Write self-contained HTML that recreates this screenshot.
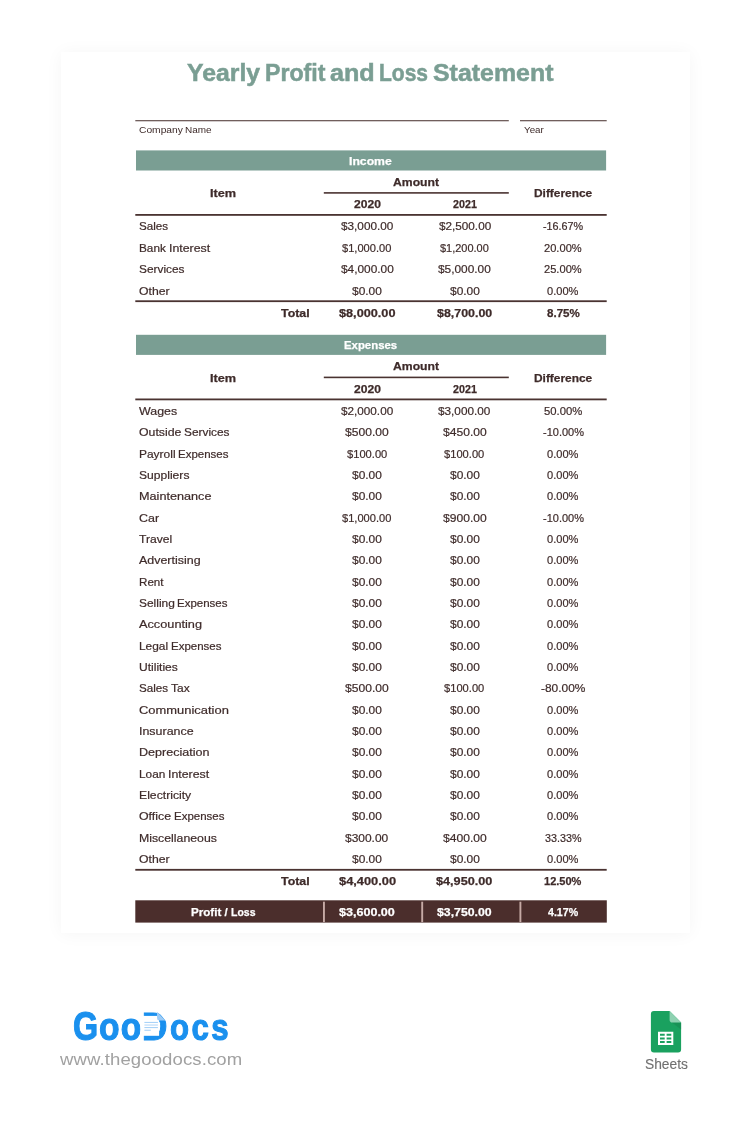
<!DOCTYPE html>
<html lang="en">
<head>
<meta charset="utf-8">
<title>Yearly Profit and Loss Statement</title>
<style>
html,body{margin:0;padding:0;background:#ffffff;}
body{width:750px;height:1144px;position:relative;overflow:hidden;font-family:"Liberation Sans",sans-serif;color:#3e2b2a;}
.t{position:absolute;white-space:nowrap;margin:0;padding:0;transform-origin:0 50%;}
.w{display:inline-block;transform-origin:0 50%;word-spacing:0;}
.r{position:absolute;}
.card{position:absolute;left:60.5px;top:52px;width:629px;height:881px;background:#fff;box-shadow:0 1px 17px rgba(0,0,0,0.045);}
</style>
</head>
<body>
<div class="card"></div>
<svg class="r" style="left:0;top:0" width="750" height="1144" viewBox="0 0 750 1144">
<rect x="135.30" y="120.05" width="373.50" height="1.25" fill="#6a5856"/>
<rect x="520.00" y="120.05" width="86.70" height="1.25" fill="#6a5856"/>
<rect x="136.00" y="150.40" width="470.10" height="20.10" fill="#7a9e93"/>
<rect x="323.80" y="192.10" width="185.00" height="1.60" fill="#4a3331"/>
<rect x="135.30" y="214.00" width="471.40" height="1.80" fill="#4a3331"/>
<rect x="135.30" y="300.30" width="471.40" height="1.80" fill="#4a3331"/>
<rect x="136.00" y="334.80" width="470.10" height="20.10" fill="#7a9e93"/>
<rect x="323.80" y="376.60" width="185.00" height="1.60" fill="#4a3331"/>
<rect x="135.30" y="398.50" width="471.40" height="1.80" fill="#4a3331"/>
<rect x="135.30" y="868.90" width="471.40" height="1.80" fill="#4a3331"/>
<rect x="135.30" y="900.30" width="471.50" height="22.30" fill="#4b2e2c"/>
<rect x="323.00" y="901.70" width="1.90" height="20.40" fill="#c6aaa5"/>
<rect x="421.25" y="901.70" width="1.90" height="20.40" fill="#c6aaa5"/>
<rect x="519.45" y="901.70" width="1.90" height="20.40" fill="#c6aaa5"/>
</svg>
<div class="t" style="left:187.06px;top:55px;font-size:22.99px;line-height:37px;word-spacing:-1.727px;font-weight:700;color:#7a9e93;-webkit-text-stroke:0.5px #7a9e93"><span class="w" style="width:73.06px;transform:scaleX(1.0783)">Yearly</span> <span class="w" style="width:60.50px;transform:scaleX(1.0079)">Profit</span> <span class="w" style="width:44.70px;transform:scaleX(1.0937)">and</span> <span class="w" style="width:49.06px;transform:scaleX(0.9143)">Loss</span> <span class="w" style="width:120.49px;transform:scaleX(1.0841)">Statement</span></div>
<div class="t" style="left:138.70px;top:123px;font-size:9.11px;line-height:15px;word-spacing:-0.182px"><span class="w" style="width:43.97px;transform:scaleX(1.1278)">Company</span> <span class="w" style="width:26.66px;transform:scaleX(1.0969)">Name</span></div>
<div class="t" style="left:523.50px;top:123px;font-size:9.11px;line-height:15px;transform:scaleX(1.0771)">Year</div>
<div class="t" style="left:349.43px;top:152px;font-size:11.38px;line-height:18px;transform:scaleX(1.0729);font-weight:700;color:#ffffff;-webkit-text-stroke:0.25px #ffffff">Income</div>
<div class="t" style="left:393.27px;top:173px;font-size:11.38px;line-height:18px;transform:scaleX(1.0716);font-weight:700;-webkit-text-stroke:0.25px #3e2b2a">Amount</div>
<div class="t" style="left:353.65px;top:195px;font-size:11.38px;line-height:18px;transform:scaleX(1.0628);font-weight:700;-webkit-text-stroke:0.25px #3e2b2a">2020</div>
<div class="t" style="left:452.67px;top:195px;font-size:11.38px;line-height:18px;transform:scaleX(0.9428);font-weight:700;-webkit-text-stroke:0.25px #3e2b2a">2021</div>
<div class="t" style="left:210.13px;top:184px;font-size:11.38px;line-height:18px;transform:scaleX(1.1170);font-weight:700;-webkit-text-stroke:0.25px #3e2b2a">Item</div>
<div class="t" style="left:533.87px;top:184px;font-size:11.38px;line-height:18px;transform:scaleX(1.0469);font-weight:700;-webkit-text-stroke:0.25px #3e2b2a">Difference</div>
<div class="t" style="left:138.70px;top:217px;font-size:11.38px;line-height:18px;transform:scaleX(1.0244);-webkit-text-stroke:0.2px #3e2b2a">Sales</div>
<div class="t" style="left:340.93px;top:217px;font-size:11.38px;line-height:18px;transform:scaleX(1.0340);-webkit-text-stroke:0.2px #3e2b2a">$3,000.00</div>
<div class="t" style="left:438.50px;top:217px;font-size:11.38px;line-height:18px;transform:scaleX(1.0310);-webkit-text-stroke:0.2px #3e2b2a">$2,500.00</div>
<div class="t" style="left:542.89px;top:217px;font-size:11.38px;line-height:18px;transform:scaleX(0.9488);-webkit-text-stroke:0.2px #3e2b2a">-16.67%</div>
<div class="t" style="left:138.70px;top:239px;font-size:11.38px;line-height:18px;word-spacing:-0.228px;-webkit-text-stroke:0.2px #3e2b2a"><span class="w" style="width:26.88px;transform:scaleX(1.0364)">Bank</span> <span class="w" style="width:41.24px;transform:scaleX(1.0866)">Interest</span></div>
<div class="t" style="left:342.41px;top:239px;font-size:11.38px;line-height:18px;transform:scaleX(0.9756);-webkit-text-stroke:0.2px #3e2b2a">$1,000.00</div>
<div class="t" style="left:440.20px;top:239px;font-size:11.38px;line-height:18px;transform:scaleX(0.9641);-webkit-text-stroke:0.2px #3e2b2a">$1,200.00</div>
<div class="t" style="left:544.15px;top:239px;font-size:11.38px;line-height:18px;transform:scaleX(0.9770);-webkit-text-stroke:0.2px #3e2b2a">20.00%</div>
<div class="t" style="left:138.70px;top:260px;font-size:11.38px;line-height:18px;transform:scaleX(1.0426);-webkit-text-stroke:0.2px #3e2b2a">Services</div>
<div class="t" style="left:340.71px;top:260px;font-size:11.38px;line-height:18px;transform:scaleX(1.0427);-webkit-text-stroke:0.2px #3e2b2a">$4,000.00</div>
<div class="t" style="left:438.21px;top:260px;font-size:11.38px;line-height:18px;transform:scaleX(1.0425);-webkit-text-stroke:0.2px #3e2b2a">$5,000.00</div>
<div class="t" style="left:544.15px;top:260px;font-size:11.38px;line-height:18px;transform:scaleX(0.9770);-webkit-text-stroke:0.2px #3e2b2a">25.00%</div>
<div class="t" style="left:138.70px;top:282px;font-size:11.38px;line-height:18px;transform:scaleX(1.0756);-webkit-text-stroke:0.2px #3e2b2a">Other</div>
<div class="t" style="left:352.16px;top:282px;font-size:11.38px;line-height:18px;transform:scaleX(1.0491);-webkit-text-stroke:0.2px #3e2b2a">$0.00</div>
<div class="t" style="left:449.66px;top:282px;font-size:11.38px;line-height:18px;transform:scaleX(1.0491);-webkit-text-stroke:0.2px #3e2b2a">$0.00</div>
<div class="t" style="left:547.31px;top:282px;font-size:11.38px;line-height:18px;transform:scaleX(0.9726);-webkit-text-stroke:0.2px #3e2b2a">0.00%</div>
<div class="t" style="left:280.61px;top:304px;font-size:11.38px;line-height:18px;transform:scaleX(1.0892);font-weight:700;-webkit-text-stroke:0.25px #3e2b2a">Total</div>
<div class="t" style="left:338.86px;top:304px;font-size:11.38px;line-height:18px;transform:scaleX(1.1157);font-weight:700;-webkit-text-stroke:0.25px #3e2b2a">$8,000.00</div>
<div class="t" style="left:437.00px;top:304px;font-size:11.38px;line-height:18px;transform:scaleX(1.0903);font-weight:700;-webkit-text-stroke:0.25px #3e2b2a">$8,700.00</div>
<div class="t" style="left:546.58px;top:304px;font-size:11.38px;line-height:18px;transform:scaleX(1.0176);font-weight:700;-webkit-text-stroke:0.25px #3e2b2a">8.75%</div>
<div class="t" style="left:344.24px;top:336px;font-size:11.38px;line-height:18px;transform:scaleX(0.9998);font-weight:700;color:#ffffff;-webkit-text-stroke:0.25px #ffffff">Expenses</div>
<div class="t" style="left:393.27px;top:357px;font-size:11.38px;line-height:18px;transform:scaleX(1.0716);font-weight:700;-webkit-text-stroke:0.25px #3e2b2a">Amount</div>
<div class="t" style="left:353.65px;top:380px;font-size:11.38px;line-height:18px;transform:scaleX(1.0628);font-weight:700;-webkit-text-stroke:0.25px #3e2b2a">2020</div>
<div class="t" style="left:452.67px;top:380px;font-size:11.38px;line-height:18px;transform:scaleX(0.9428);font-weight:700;-webkit-text-stroke:0.25px #3e2b2a">2021</div>
<div class="t" style="left:210.13px;top:369px;font-size:11.38px;line-height:18px;transform:scaleX(1.1170);font-weight:700;-webkit-text-stroke:0.25px #3e2b2a">Item</div>
<div class="t" style="left:533.87px;top:369px;font-size:11.38px;line-height:18px;transform:scaleX(1.0469);font-weight:700;-webkit-text-stroke:0.25px #3e2b2a">Difference</div>
<div class="t" style="left:138.70px;top:402px;font-size:11.38px;line-height:18px;transform:scaleX(1.0907);-webkit-text-stroke:0.2px #3e2b2a">Wages</div>
<div class="t" style="left:341.00px;top:402px;font-size:11.38px;line-height:18px;transform:scaleX(1.0310);-webkit-text-stroke:0.2px #3e2b2a">$2,000.00</div>
<div class="t" style="left:438.43px;top:402px;font-size:11.38px;line-height:18px;transform:scaleX(1.0340);-webkit-text-stroke:0.2px #3e2b2a">$3,000.00</div>
<div class="t" style="left:543.85px;top:402px;font-size:11.38px;line-height:18px;transform:scaleX(0.9921);-webkit-text-stroke:0.2px #3e2b2a">50.00%</div>
<div class="t" style="left:138.70px;top:423px;font-size:11.38px;line-height:18px;word-spacing:-0.228px;-webkit-text-stroke:0.2px #3e2b2a"><span class="w" style="width:42.39px;transform:scaleX(1.0809)">Outside</span> <span class="w" style="width:45.50px;transform:scaleX(1.0426)">Services</span></div>
<div class="t" style="left:345.25px;top:423px;font-size:11.38px;line-height:18px;transform:scaleX(1.0621);-webkit-text-stroke:0.2px #3e2b2a">$500.00</div>
<div class="t" style="left:442.75px;top:423px;font-size:11.38px;line-height:18px;transform:scaleX(1.0624);-webkit-text-stroke:0.2px #3e2b2a">$450.00</div>
<div class="t" style="left:542.52px;top:423px;font-size:11.38px;line-height:18px;transform:scaleX(0.9664);-webkit-text-stroke:0.2px #3e2b2a">-10.00%</div>
<div class="t" style="left:138.70px;top:445px;font-size:11.38px;line-height:18px;word-spacing:-0.228px;-webkit-text-stroke:0.2px #3e2b2a"><span class="w" style="width:36.55px;transform:scaleX(1.0509)">Payroll</span> <span class="w" style="width:50.51px;transform:scaleX(1.0107)">Expenses</span></div>
<div class="t" style="left:346.95px;top:445px;font-size:11.38px;line-height:18px;transform:scaleX(0.9798);-webkit-text-stroke:0.2px #3e2b2a">$100.00</div>
<div class="t" style="left:444.45px;top:445px;font-size:11.38px;line-height:18px;transform:scaleX(0.9798);-webkit-text-stroke:0.2px #3e2b2a">$100.00</div>
<div class="t" style="left:547.31px;top:445px;font-size:11.38px;line-height:18px;transform:scaleX(0.9726);-webkit-text-stroke:0.2px #3e2b2a">0.00%</div>
<div class="t" style="left:138.70px;top:466px;font-size:11.38px;line-height:18px;transform:scaleX(1.0633);-webkit-text-stroke:0.2px #3e2b2a">Suppliers</div>
<div class="t" style="left:352.16px;top:466px;font-size:11.38px;line-height:18px;transform:scaleX(1.0491);-webkit-text-stroke:0.2px #3e2b2a">$0.00</div>
<div class="t" style="left:449.66px;top:466px;font-size:11.38px;line-height:18px;transform:scaleX(1.0491);-webkit-text-stroke:0.2px #3e2b2a">$0.00</div>
<div class="t" style="left:547.31px;top:466px;font-size:11.38px;line-height:18px;transform:scaleX(0.9726);-webkit-text-stroke:0.2px #3e2b2a">0.00%</div>
<div class="t" style="left:138.70px;top:487px;font-size:11.38px;line-height:18px;transform:scaleX(1.1124);-webkit-text-stroke:0.2px #3e2b2a">Maintenance</div>
<div class="t" style="left:352.16px;top:487px;font-size:11.38px;line-height:18px;transform:scaleX(1.0491);-webkit-text-stroke:0.2px #3e2b2a">$0.00</div>
<div class="t" style="left:449.66px;top:487px;font-size:11.38px;line-height:18px;transform:scaleX(1.0491);-webkit-text-stroke:0.2px #3e2b2a">$0.00</div>
<div class="t" style="left:547.31px;top:487px;font-size:11.38px;line-height:18px;transform:scaleX(0.9726);-webkit-text-stroke:0.2px #3e2b2a">0.00%</div>
<div class="t" style="left:138.70px;top:509px;font-size:11.38px;line-height:18px;transform:scaleX(1.0924);-webkit-text-stroke:0.2px #3e2b2a">Car</div>
<div class="t" style="left:342.41px;top:509px;font-size:11.38px;line-height:18px;transform:scaleX(0.9756);-webkit-text-stroke:0.2px #3e2b2a">$1,000.00</div>
<div class="t" style="left:442.74px;top:509px;font-size:11.38px;line-height:18px;transform:scaleX(1.0627);-webkit-text-stroke:0.2px #3e2b2a">$900.00</div>
<div class="t" style="left:542.52px;top:509px;font-size:11.38px;line-height:18px;transform:scaleX(0.9664);-webkit-text-stroke:0.2px #3e2b2a">-10.00%</div>
<div class="t" style="left:138.70px;top:530px;font-size:11.38px;line-height:18px;transform:scaleX(1.0639);-webkit-text-stroke:0.2px #3e2b2a">Travel</div>
<div class="t" style="left:352.16px;top:530px;font-size:11.38px;line-height:18px;transform:scaleX(1.0491);-webkit-text-stroke:0.2px #3e2b2a">$0.00</div>
<div class="t" style="left:449.66px;top:530px;font-size:11.38px;line-height:18px;transform:scaleX(1.0491);-webkit-text-stroke:0.2px #3e2b2a">$0.00</div>
<div class="t" style="left:547.31px;top:530px;font-size:11.38px;line-height:18px;transform:scaleX(0.9726);-webkit-text-stroke:0.2px #3e2b2a">0.00%</div>
<div class="t" style="left:138.70px;top:551px;font-size:11.38px;line-height:18px;transform:scaleX(1.0939);-webkit-text-stroke:0.2px #3e2b2a">Advertising</div>
<div class="t" style="left:352.16px;top:551px;font-size:11.38px;line-height:18px;transform:scaleX(1.0491);-webkit-text-stroke:0.2px #3e2b2a">$0.00</div>
<div class="t" style="left:449.66px;top:551px;font-size:11.38px;line-height:18px;transform:scaleX(1.0491);-webkit-text-stroke:0.2px #3e2b2a">$0.00</div>
<div class="t" style="left:547.31px;top:551px;font-size:11.38px;line-height:18px;transform:scaleX(0.9726);-webkit-text-stroke:0.2px #3e2b2a">0.00%</div>
<div class="t" style="left:138.70px;top:573px;font-size:11.38px;line-height:18px;transform:scaleX(1.0214);-webkit-text-stroke:0.2px #3e2b2a">Rent</div>
<div class="t" style="left:352.16px;top:573px;font-size:11.38px;line-height:18px;transform:scaleX(1.0491);-webkit-text-stroke:0.2px #3e2b2a">$0.00</div>
<div class="t" style="left:449.66px;top:573px;font-size:11.38px;line-height:18px;transform:scaleX(1.0491);-webkit-text-stroke:0.2px #3e2b2a">$0.00</div>
<div class="t" style="left:547.31px;top:573px;font-size:11.38px;line-height:18px;transform:scaleX(0.9726);-webkit-text-stroke:0.2px #3e2b2a">0.00%</div>
<div class="t" style="left:138.70px;top:594px;font-size:11.38px;line-height:18px;word-spacing:-0.228px;-webkit-text-stroke:0.2px #3e2b2a"><span class="w" style="width:35.87px;transform:scaleX(1.0500)">Selling</span> <span class="w" style="width:50.51px;transform:scaleX(1.0107)">Expenses</span></div>
<div class="t" style="left:352.16px;top:594px;font-size:11.38px;line-height:18px;transform:scaleX(1.0491);-webkit-text-stroke:0.2px #3e2b2a">$0.00</div>
<div class="t" style="left:449.66px;top:594px;font-size:11.38px;line-height:18px;transform:scaleX(1.0491);-webkit-text-stroke:0.2px #3e2b2a">$0.00</div>
<div class="t" style="left:547.31px;top:594px;font-size:11.38px;line-height:18px;transform:scaleX(0.9726);-webkit-text-stroke:0.2px #3e2b2a">0.00%</div>
<div class="t" style="left:138.70px;top:615px;font-size:11.38px;line-height:18px;transform:scaleX(1.1202);-webkit-text-stroke:0.2px #3e2b2a">Accounting</div>
<div class="t" style="left:352.16px;top:615px;font-size:11.38px;line-height:18px;transform:scaleX(1.0491);-webkit-text-stroke:0.2px #3e2b2a">$0.00</div>
<div class="t" style="left:449.66px;top:615px;font-size:11.38px;line-height:18px;transform:scaleX(1.0491);-webkit-text-stroke:0.2px #3e2b2a">$0.00</div>
<div class="t" style="left:547.31px;top:615px;font-size:11.38px;line-height:18px;transform:scaleX(0.9726);-webkit-text-stroke:0.2px #3e2b2a">0.00%</div>
<div class="t" style="left:138.70px;top:637px;font-size:11.38px;line-height:18px;word-spacing:-0.226px;-webkit-text-stroke:0.2px #3e2b2a"><span class="w" style="width:29.15px;transform:scaleX(1.0469)">Legal</span> <span class="w" style="width:50.51px;transform:scaleX(1.0107)">Expenses</span></div>
<div class="t" style="left:352.16px;top:637px;font-size:11.38px;line-height:18px;transform:scaleX(1.0491);-webkit-text-stroke:0.2px #3e2b2a">$0.00</div>
<div class="t" style="left:449.66px;top:637px;font-size:11.38px;line-height:18px;transform:scaleX(1.0491);-webkit-text-stroke:0.2px #3e2b2a">$0.00</div>
<div class="t" style="left:547.31px;top:637px;font-size:11.38px;line-height:18px;transform:scaleX(0.9726);-webkit-text-stroke:0.2px #3e2b2a">0.00%</div>
<div class="t" style="left:138.70px;top:658px;font-size:11.38px;line-height:18px;transform:scaleX(1.0585);-webkit-text-stroke:0.2px #3e2b2a">Utilities</div>
<div class="t" style="left:352.16px;top:658px;font-size:11.38px;line-height:18px;transform:scaleX(1.0491);-webkit-text-stroke:0.2px #3e2b2a">$0.00</div>
<div class="t" style="left:449.66px;top:658px;font-size:11.38px;line-height:18px;transform:scaleX(1.0491);-webkit-text-stroke:0.2px #3e2b2a">$0.00</div>
<div class="t" style="left:547.31px;top:658px;font-size:11.38px;line-height:18px;transform:scaleX(0.9726);-webkit-text-stroke:0.2px #3e2b2a">0.00%</div>
<div class="t" style="left:138.70px;top:679px;font-size:11.38px;line-height:18px;word-spacing:-0.228px;-webkit-text-stroke:0.2px #3e2b2a"><span class="w" style="width:29.16px;transform:scaleX(1.0244)">Sales</span> <span class="w" style="width:18.66px;transform:scaleX(1.0535)">Tax</span></div>
<div class="t" style="left:345.25px;top:679px;font-size:11.38px;line-height:18px;transform:scaleX(1.0621);-webkit-text-stroke:0.2px #3e2b2a">$500.00</div>
<div class="t" style="left:444.45px;top:679px;font-size:11.38px;line-height:18px;transform:scaleX(0.9798);-webkit-text-stroke:0.2px #3e2b2a">$100.00</div>
<div class="t" style="left:540.81px;top:679px;font-size:11.38px;line-height:18px;transform:scaleX(1.0471);-webkit-text-stroke:0.2px #3e2b2a">-80.00%</div>
<div class="t" style="left:138.70px;top:701px;font-size:11.38px;line-height:18px;transform:scaleX(1.1369);-webkit-text-stroke:0.2px #3e2b2a">Communication</div>
<div class="t" style="left:352.16px;top:701px;font-size:11.38px;line-height:18px;transform:scaleX(1.0491);-webkit-text-stroke:0.2px #3e2b2a">$0.00</div>
<div class="t" style="left:449.66px;top:701px;font-size:11.38px;line-height:18px;transform:scaleX(1.0491);-webkit-text-stroke:0.2px #3e2b2a">$0.00</div>
<div class="t" style="left:547.31px;top:701px;font-size:11.38px;line-height:18px;transform:scaleX(0.9726);-webkit-text-stroke:0.2px #3e2b2a">0.00%</div>
<div class="t" style="left:138.70px;top:722px;font-size:11.38px;line-height:18px;transform:scaleX(1.0926);-webkit-text-stroke:0.2px #3e2b2a">Insurance</div>
<div class="t" style="left:352.16px;top:722px;font-size:11.38px;line-height:18px;transform:scaleX(1.0491);-webkit-text-stroke:0.2px #3e2b2a">$0.00</div>
<div class="t" style="left:449.66px;top:722px;font-size:11.38px;line-height:18px;transform:scaleX(1.0491);-webkit-text-stroke:0.2px #3e2b2a">$0.00</div>
<div class="t" style="left:547.31px;top:722px;font-size:11.38px;line-height:18px;transform:scaleX(0.9726);-webkit-text-stroke:0.2px #3e2b2a">0.00%</div>
<div class="t" style="left:138.70px;top:743px;font-size:11.38px;line-height:18px;transform:scaleX(1.1044);-webkit-text-stroke:0.2px #3e2b2a">Depreciation</div>
<div class="t" style="left:352.16px;top:743px;font-size:11.38px;line-height:18px;transform:scaleX(1.0491);-webkit-text-stroke:0.2px #3e2b2a">$0.00</div>
<div class="t" style="left:449.66px;top:743px;font-size:11.38px;line-height:18px;transform:scaleX(1.0491);-webkit-text-stroke:0.2px #3e2b2a">$0.00</div>
<div class="t" style="left:547.31px;top:743px;font-size:11.38px;line-height:18px;transform:scaleX(0.9726);-webkit-text-stroke:0.2px #3e2b2a">0.00%</div>
<div class="t" style="left:138.70px;top:765px;font-size:11.38px;line-height:18px;word-spacing:-0.228px;-webkit-text-stroke:0.2px #3e2b2a"><span class="w" style="width:26.27px;transform:scaleX(1.0376)">Loan</span> <span class="w" style="width:41.24px;transform:scaleX(1.0866)">Interest</span></div>
<div class="t" style="left:352.16px;top:765px;font-size:11.38px;line-height:18px;transform:scaleX(1.0491);-webkit-text-stroke:0.2px #3e2b2a">$0.00</div>
<div class="t" style="left:449.66px;top:765px;font-size:11.38px;line-height:18px;transform:scaleX(1.0491);-webkit-text-stroke:0.2px #3e2b2a">$0.00</div>
<div class="t" style="left:547.31px;top:765px;font-size:11.38px;line-height:18px;transform:scaleX(0.9726);-webkit-text-stroke:0.2px #3e2b2a">0.00%</div>
<div class="t" style="left:138.70px;top:786px;font-size:11.38px;line-height:18px;transform:scaleX(1.0729);-webkit-text-stroke:0.2px #3e2b2a">Electricity</div>
<div class="t" style="left:352.16px;top:786px;font-size:11.38px;line-height:18px;transform:scaleX(1.0491);-webkit-text-stroke:0.2px #3e2b2a">$0.00</div>
<div class="t" style="left:449.66px;top:786px;font-size:11.38px;line-height:18px;transform:scaleX(1.0491);-webkit-text-stroke:0.2px #3e2b2a">$0.00</div>
<div class="t" style="left:547.31px;top:786px;font-size:11.38px;line-height:18px;transform:scaleX(0.9726);-webkit-text-stroke:0.2px #3e2b2a">0.00%</div>
<div class="t" style="left:138.70px;top:807px;font-size:11.38px;line-height:18px;word-spacing:-0.226px;-webkit-text-stroke:0.2px #3e2b2a"><span class="w" style="width:32.09px;transform:scaleX(1.0871)">Office</span> <span class="w" style="width:50.51px;transform:scaleX(1.0107)">Expenses</span></div>
<div class="t" style="left:352.16px;top:807px;font-size:11.38px;line-height:18px;transform:scaleX(1.0491);-webkit-text-stroke:0.2px #3e2b2a">$0.00</div>
<div class="t" style="left:449.66px;top:807px;font-size:11.38px;line-height:18px;transform:scaleX(1.0491);-webkit-text-stroke:0.2px #3e2b2a">$0.00</div>
<div class="t" style="left:547.31px;top:807px;font-size:11.38px;line-height:18px;transform:scaleX(0.9726);-webkit-text-stroke:0.2px #3e2b2a">0.00%</div>
<div class="t" style="left:138.70px;top:829px;font-size:11.38px;line-height:18px;transform:scaleX(1.0809);-webkit-text-stroke:0.2px #3e2b2a">Miscellaneous</div>
<div class="t" style="left:345.47px;top:829px;font-size:11.38px;line-height:18px;transform:scaleX(1.0517);-webkit-text-stroke:0.2px #3e2b2a">$300.00</div>
<div class="t" style="left:442.75px;top:829px;font-size:11.38px;line-height:18px;transform:scaleX(1.0624);-webkit-text-stroke:0.2px #3e2b2a">$400.00</div>
<div class="t" style="left:544.71px;top:829px;font-size:11.38px;line-height:18px;transform:scaleX(0.9476);-webkit-text-stroke:0.2px #3e2b2a">33.33%</div>
<div class="t" style="left:138.70px;top:850px;font-size:11.38px;line-height:18px;transform:scaleX(1.0756);-webkit-text-stroke:0.2px #3e2b2a">Other</div>
<div class="t" style="left:352.16px;top:850px;font-size:11.38px;line-height:18px;transform:scaleX(1.0491);-webkit-text-stroke:0.2px #3e2b2a">$0.00</div>
<div class="t" style="left:449.66px;top:850px;font-size:11.38px;line-height:18px;transform:scaleX(1.0491);-webkit-text-stroke:0.2px #3e2b2a">$0.00</div>
<div class="t" style="left:547.31px;top:850px;font-size:11.38px;line-height:18px;transform:scaleX(0.9726);-webkit-text-stroke:0.2px #3e2b2a">0.00%</div>
<div class="t" style="left:280.61px;top:872px;font-size:11.38px;line-height:18px;transform:scaleX(1.0892);font-weight:700;-webkit-text-stroke:0.25px #3e2b2a">Total</div>
<div class="t" style="left:338.56px;top:872px;font-size:11.38px;line-height:18px;transform:scaleX(1.1275);font-weight:700;-webkit-text-stroke:0.25px #3e2b2a">$4,400.00</div>
<div class="t" style="left:436.41px;top:872px;font-size:11.38px;line-height:18px;transform:scaleX(1.1135);font-weight:700;-webkit-text-stroke:0.25px #3e2b2a">$4,950.00</div>
<div class="t" style="left:544.29px;top:872px;font-size:11.38px;line-height:18px;transform:scaleX(0.9693);font-weight:700;-webkit-text-stroke:0.25px #3e2b2a">12.50%</div>
<div class="t" style="left:190.99px;top:903px;font-size:11.38px;line-height:18px;word-spacing:-0.832px;font-weight:700;color:#ffffff;-webkit-text-stroke:0.25px #ffffff"><span class="w" style="width:30.25px;transform:scaleX(1.0181)">Profit</span> <span class="w" style="width:4.98px;text-align:center">/</span> <span class="w" style="width:24.53px;transform:scaleX(0.9235)">Loss</span></div>
<div class="t" style="left:339.18px;top:903px;font-size:11.38px;line-height:18px;transform:scaleX(1.1031);font-weight:700;color:#ffffff;-webkit-text-stroke:0.25px #ffffff">$3,600.00</div>
<div class="t" style="left:437.25px;top:903px;font-size:11.38px;line-height:18px;transform:scaleX(1.0805);font-weight:700;color:#ffffff;-webkit-text-stroke:0.25px #ffffff">$3,750.00</div>
<div class="t" style="left:547.93px;top:903px;font-size:11.38px;line-height:18px;transform:scaleX(0.9341);font-weight:700;color:#ffffff;-webkit-text-stroke:0.25px #ffffff">4.17%</div>
<div style="position:absolute;white-space:nowrap;font-weight:700;color:#1a90ee;line-height:44px;transform-origin:0 0;-webkit-text-stroke:1.1px #1a90ee;left:73.0px;top:1004px;font-size:41.4px;letter-spacing:0px;transform:scaleX(0.78)">G</div>
<div style="position:absolute;white-space:nowrap;font-weight:700;color:#1a90ee;line-height:44px;transform-origin:0 0;-webkit-text-stroke:1.1px #1a90ee;left:98.8px;top:1005px;font-size:38.2px;letter-spacing:1.3px;transform:scaleX(0.88)">oo</div>
<div style="position:absolute;white-space:nowrap;font-weight:700;color:#1a90ee;line-height:44px;transform-origin:0 0;-webkit-text-stroke:1.1px #1a90ee;left:141.7px;top:1005px;font-size:38.4px;letter-spacing:0px;transform:scaleX(0.915)">D</div>
<div style="position:absolute;white-space:nowrap;font-weight:700;color:#1a90ee;line-height:44px;transform-origin:0 0;-webkit-text-stroke:1.1px #1a90ee;left:169.5px;top:1005px;font-size:37.6px;letter-spacing:2.9px;transform:scaleX(0.83)">ocs</div>
<svg class="r" style="left:140px;top:1008px" width="30" height="36" viewBox="140 1008 30 36">
<rect x="140.5" y="1015.9" width="18.6" height="19.9" fill="#ffffff"/>
<path d="M156.6 1010 H168 V1020.4 H165.4 Z" fill="#ffffff"/>
<path d="M156.9 1011.8 L165.3 1020.4 H159.3 a2.2 2.2 0 0 1 -2.2 -2.2 Z" fill="#9ccbf6"/>
<rect x="144.4" y="1021.9" width="13.5" height="1.1" fill="#a9d2f7"/>
<rect x="144.4" y="1024.4" width="13.5" height="1.3" fill="#c3e0fa"/>
<rect x="144.4" y="1027.0" width="13.5" height="1.1" fill="#a9d2f7"/>
<rect x="144.4" y="1029.7" width="6.4" height="1.1" fill="#a9d2f7"/>
</svg>
<div class="t" style="left:60.40px;top:1048px;font-size:17.40px;line-height:23px;font-weight:400;color:#a1a1a1;letter-spacing:0.100px;transform:scaleX(1.066)">www.thegoodocs.com</div>
<svg class="r" style="left:650px;top:1010px" width="32" height="43" viewBox="0 0 32 43">
<path d="M3.9 0.9 H19.6 L31.1 12.5 V39.6 a3 3 0 0 1 -3 3 H3.9 a3 3 0 0 1 -3 -3 V3.9 a3 3 0 0 1 3 -3 Z" fill="#1aa15f"/>
<path d="M20.6 11.6 L31.1 12.5 V19.5 Z" fill="#17864f" opacity="0.55"/>
<path d="M19.6 0.9 L31.1 12.5 H22.4 a2.8 2.8 0 0 1 -2.8 -2.8 Z" fill="#8ed1b1"/>
<path d="M8 21.7 H23.3 V35 H8 Z M10 23.7 V25.8 H14.7 V23.7 Z M16.6 23.7 V25.8 H21.3 V23.7 Z M10 27.4 V29.4 H14.7 V27.4 Z M16.6 27.4 V29.4 H21.3 V27.4 Z M10 31 V33 H14.7 V31 Z M16.6 31 V33 H21.3 V31 Z" fill="#ffffff" fill-rule="evenodd"/>
</svg>
<div class="t" style="left:645.00px;top:1055px;font-size:14.90px;line-height:19px;font-weight:400;color:#707070;letter-spacing:0.000px;-webkit-text-stroke:0.15px #707070;transform:scaleX(0.925)">Sheets</div>
</body>
</html>
